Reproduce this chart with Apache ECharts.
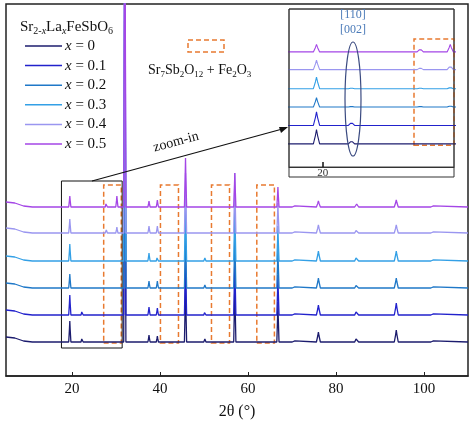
<!DOCTYPE html>
<html>
<head>
<meta charset="utf-8">
<script src="https://cdn.jsdelivr.net/npm/echarts@6/dist/echarts.min.js"></script>
<style>html,body{margin:0;padding:0;background:#fff}#chart{width:474px;height:426px}</style>
</head>
<body>
<div id="chart"></div>
<script>
// series labels, colours and baselines (y units = px above the axis)
var seriesNames = ['x = 0', 'x = 0.1', 'x = 0.2', 'x = 0.3', 'x = 0.4', 'x = 0.5'];
var colors = ['#1c1c6e', '#2222cc', '#1f78c8', '#33a0e6', '#9a96f0', '#a446e6'];
var baselines = [34, 61, 88, 115, 143, 169];
var xTicks = [20, 40, 60, 80, 100];

// peak positions (2θ) and heights for each composition
var peakPos = [19.5, 22.3, 27.8, 30.2, 32.0, 37.5, 39.4, 45.8, 50.2, 57.0, 61.0, 66.8, 70.5, 76.0, 84.7, 93.7, 102.0];
var peakHeights = [
  [21, 5, 0, 0, 400, 7, 6, 60, 3, 60, 2, 40, 2, 10, 5, 12, 2],
  [20, 5, 0, 0, 400, 8, 7, 60, 4, 60, 2, 40, 2, 10, 5, 12, 2],
  [14, 1, 1, 2, 400, 7, 7, 60, 3, 60, 2, 40, 2, 10, 4, 10, 2],
  [17, 1, 1, 2, 400, 8, 5, 60, 3, 60, 2, 35, 2, 10, 5, 10, 2],
  [14, 0, 3, 6, 400, 7, 7, 60, 2, 60, 1, 30, 2, 8, 4, 8, 2],
  [11, 0, 5, 11, 400, 6, 7, 49, 2, 34, 1, 20, 2, 6, 3, 7, 2]
];
// low-angle background rise
var riseX = [5, 7, 9, 11];
var riseY = [5, 4, 1, 0];

// impurity regions (dashed orange) and zoom box
var impurityRanges = [[27.2, 31.2], [40.1, 44.2], [51.7, 55.8], [62.0, 66.0]];

function buildTrace(i) {
  var pts = [];
  var b = baselines[i];
  for (var k = 0; k < riseX.length; k++) pts.push([riseX[k], b + riseY[k]]);
  for (var j = 0; j < peakPos.length; j++) {
    var p = peakPos[j], h = peakHeights[i][j];
    if (!h) continue;
    var hw = p > 70 ? 0.45 : 0.25;
    pts.push([p - hw, b], [p - hw / 3, b + h * 0.6], [p, b + h], [p + hw / 3, b + h * 0.6], [p + hw, b]);
  }
  pts.push([110, b]);
  return pts;
}

var chart = echarts.init(document.getElementById('chart'));
var serif = 'Liberation Serif';
var series = [];
seriesNames.forEach(function (n, i) {
  var d = buildTrace(i);
  series.push({ type: 'line', name: n, data: d, showSymbol: false, lineStyle: { color: colors[i], width: 1.3 }, xAxisIndex: 0, yAxisIndex: 0, animation: false, z: 3 + i });
  series.push({ type: 'line', name: n + ' inset', data: d, showSymbol: false, lineStyle: { color: colors[i], width: 1.1 }, xAxisIndex: 1, yAxisIndex: 1, animation: false, z: 3 + i });
});
series.push({
  type: 'line', data: [], xAxisIndex: 0, yAxisIndex: 0, silent: true,
  markArea: {
    silent: true,
    data: impurityRanges.map(function (r) {
      return [{ xAxis: r[0], yAxis: 33, itemStyle: { color: 'rgba(0,0,0,0)', borderColor: '#e87a30', borderWidth: 1.5, borderType: [5, 3] } }, { xAxis: r[1], yAxis: 191 }];
    }).concat([[{ xAxis: 17.6, yAxis: 28, itemStyle: { color: 'rgba(0,0,0,0)', borderColor: '#111', borderWidth: 1 } }, { xAxis: 31.4, yAxis: 195 }]])
  }
});
series.push({
  type: 'line', data: [], xAxisIndex: 1, yAxisIndex: 1, silent: true,
  markArea: {
    silent: true,
    data: [[{ xAxis: 27.3, yAxis: 32, itemStyle: { color: 'rgba(0,0,0,0)', borderColor: '#e87a30', borderWidth: 1.5, borderType: [5, 3] } }, { xAxis: 30.6, yAxis: 188 }]]
  }
});

var legendGraphics = [];
seriesNames.forEach(function (n, i) {
  var y = 46 + i * 19.6;
  legendGraphics.push({ type: 'line', shape: { x1: 25, y1: y, x2: 62, y2: y }, style: { stroke: colors[i], lineWidth: 1.5 } });
  legendGraphics.push({ type: 'text', x: 65, y: y, style: { text: '{i|x} = ' + n.slice(4), rich: { i: { fontStyle: 'italic', fontFamily: serif, fontSize: 15 } }, fontFamily: serif, fontSize: 15, fill: '#111', verticalAlign: 'middle' } });
});

chart.setOption({
  animation: false,
  grid: [
    { left: 6, right: 6, top: 4, bottom: 50, show: true, borderColor: '#222', borderWidth: 1.5 },
    { left: 289, width: 165, top: 9, height: 158, show: true, borderColor: '#444', borderWidth: 1 }
  ],
  xAxis: [
    {
      type: 'value', min: 5, max: 110, gridIndex: 0,
      axisLine: { lineStyle: { color: '#222', width: 1.5 } },
      axisTick: { inside: true, length: 4, customValues: xTicks, lineStyle: { color: '#222' } },
      axisLabel: { customValues: xTicks, fontFamily: serif, fontSize: 15, color: '#111', margin: 6 },
      splitLine: { show: false },
      name: '2θ (°)', nameLocation: 'middle', nameGap: 28, nameTextStyle: { fontFamily: serif, fontSize: 16, color: '#111' }
    },
    {
      type: 'value', min: 17.3, max: 30.5, gridIndex: 1,
      axisLine: { lineStyle: { color: '#333' } },
      axisTick: { inside: true, length: 5, customValues: [20], lineStyle: { color: '#111', width: 1.5 } },
      axisLabel: { customValues: [20], fontFamily: serif, fontSize: 11, color: '#333', margin: 1 },
      splitLine: { show: false }
    }
  ],
  yAxis: [
    { type: 'value', min: 0, max: 372, gridIndex: 0, show: false, splitLine: { show: false } },
    { type: 'value', min: 0, max: 232, gridIndex: 1, show: false, splitLine: { show: false } }
  ],
  series: series,
  graphic: [
    { type: 'rect', shape: { x: 289, y: 9, width: 165, height: 168 }, style: { fill: 'none', stroke: '#333', lineWidth: 1 }, z: 100 },
    { type: 'text', x: 20, y: 18, style: { text: 'Sr{s|2-}{si|x}La{si|x}FeSbO{s|6}', fontFamily: serif, fontSize: 15, fill: '#111', rich: { s: { fontSize: 10, fontFamily: serif, padding: [8, 0, 0, 0] }, si: { fontSize: 10, fontFamily: serif, fontStyle: 'italic', padding: [8, 0, 0, 0] } } }, z: 100 },
    { type: 'rect', shape: { x: 188, y: 40, width: 36, height: 12 }, style: { fill: 'none', stroke: '#e87a30', lineWidth: 1.5, lineDash: [5, 3] }, z: 100 },
    { type: 'text', x: 148, y: 62, style: { text: 'Sr{s|7}Sb{s|2}O{s|12} + Fe{s|2}O{s|3}', fontFamily: serif, fontSize: 14, fill: '#111', rich: { s: { fontSize: 9, fontFamily: serif, padding: [8, 0, 0, 0] } } }, z: 100 },
    { type: 'line', shape: { x1: 92, y1: 181, x2: 286, y2: 128 }, style: { stroke: '#111', lineWidth: 1.2 }, z: 100 },
    { type: 'polygon', shape: { points: [[288, 127], [279, 127], [281, 133]] }, style: { fill: '#111' }, z: 100 },
    { type: 'text', x: 176, y: 142, rotation: 15 * Math.PI / 180, style: { text: 'zoom-in', fontFamily: serif, fontSize: 14, fill: '#111', align: 'center', verticalAlign: 'middle' }, z: 100 },
    { type: 'ellipse', shape: { cx: 353, cy: 99, rx: 8, ry: 57 }, style: { fill: 'none', stroke: '#3a4a80', lineWidth: 1.2 }, z: 100 },
    { type: 'text', x: 353, y: 22, style: { text: '[110]\n[002]', fontFamily: serif, fontSize: 12, lineHeight: 15, fill: '#4a7ab8', align: 'center', verticalAlign: 'middle' }, z: 100 }
  ].concat(legendGraphics.map(function (g) { g.z = 100; return g; }))
});
</script>
</body>
</html>
